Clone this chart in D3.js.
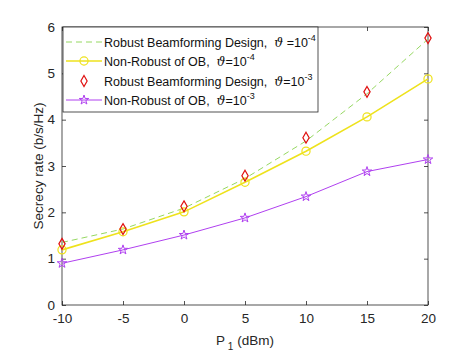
<!DOCTYPE html>
<html><head><meta charset="utf-8">
<script src="https://cdn.jsdelivr.net/npm/d3@7"></script>
<style>body{margin:0;background:#fff;} svg{display:block;font-family:"Liberation Sans",Arial,sans-serif;}</style>
</head><body>
<svg id="c" width="474" height="355"></svg>
<script>
const xValues = [-10, -5, 0, 5, 10, 15, 20];
const robust4 = [1.35, 1.64, 2.09, 2.73, 3.54, 4.56, 5.74];
const nonRobust4 = [1.19, 1.58, 2.01, 2.65, 3.32, 4.06, 4.88];
const robust3 = [1.32, 1.64, 2.13, 2.79, 3.61, 4.60, 5.76];
const nonRobust3 = [0.90, 1.19, 1.51, 1.88, 2.34, 2.88, 3.14];
const xTicks = [-10, -5, 0, 5, 10, 15, 20];
const yTicks = [0, 1, 2, 3, 4, 5, 6];

const svg = d3.select("#c");
const L = 62, R = 428, T = 27, B = 305;
const x = d3.scaleLinear().domain([-10, 20]).range([L, R]);
const y = d3.scaleLinear().domain([0, 6]).range([B, T]);
const axisColor = "#262626";
const fmt = d => String(d);

// axes
const gx = svg.append("g").attr("transform", `translate(0,${B})`)
  .call(d3.axisBottom(x).tickValues(xTicks).tickSize(-4).tickPadding(8).tickFormat(fmt));
const gxt = svg.append("g").attr("transform", `translate(0,${T})`)
  .call(d3.axisTop(x).tickValues(xTicks).tickSize(-4).tickFormat(""));
const gy = svg.append("g").attr("transform", `translate(${L},0)`)
  .call(d3.axisLeft(y).tickValues(yTicks).tickSize(-4).tickPadding(7).tickFormat(fmt));
const gyr = svg.append("g").attr("transform", `translate(${R},0)`)
  .call(d3.axisRight(y).tickValues(yTicks).tickSize(-4).tickFormat(""));
[gx, gxt, gy, gyr].forEach(g => {
  g.select(".domain").remove();
  g.selectAll("line").attr("stroke", axisColor).attr("stroke-width", 0.8);
  g.selectAll("text").attr("fill", axisColor).attr("font-size", 13.5).attr("font-family", "Liberation Sans, Arial, sans-serif");
});
svg.append("rect").attr("x", L).attr("y", T).attr("width", R - L).attr("height", B - T)
  .attr("fill", "none").attr("stroke", axisColor).attr("stroke-width", 0.8);

// series
const green = "#96d862", yellow = "#eee21c", red = "#e01010", purple = "#b040f0";
const line = d3.line().x((d, i) => x(xValues[i])).y(d => y(d));

svg.append("path").datum(robust4).attr("d", line).attr("fill", "none")
  .attr("stroke", green).attr("stroke-width", 1).attr("stroke-dasharray", "6,4");
svg.append("path").datum(nonRobust4).attr("d", line).attr("fill", "none")
  .attr("stroke", yellow).attr("stroke-width", 1.6);
svg.append("path").datum(nonRobust3).attr("d", line).attr("fill", "none")
  .attr("stroke", purple).attr("stroke-width", 1);

const circ = d3.symbol().type(d3.symbolCircle).size(52);
const diam = d3.symbol().type(d3.symbolDiamond).size(34);
const star = d3.symbol().type(d3.symbolStar).size(28);

svg.append("g").selectAll("path").data(nonRobust4).join("path")
  .attr("d", circ).attr("transform", (d, i) => `translate(${x(xValues[i])},${y(d)})`)
  .attr("fill", "none").attr("stroke", yellow).attr("stroke-width", 1.2);
svg.append("g").selectAll("path").data(robust3).join("path")
  .attr("d", diam).attr("transform", (d, i) => `translate(${x(xValues[i])},${y(d)})`)
  .attr("fill", "none").attr("stroke", red).attr("stroke-width", 1.2);
svg.append("g").selectAll("path").data(nonRobust3).join("path")
  .attr("d", star).attr("transform", (d, i) => `translate(${x(xValues[i])},${y(d)})`)
  .attr("fill", "none").attr("stroke", purple).attr("stroke-width", 1);

// legend
const lg = svg.append("g");
lg.append("rect").attr("x", 63).attr("y", 27).attr("width", 255).attr("height", 85)
  .attr("fill", "#fff").attr("stroke", axisColor).attr("stroke-width", 0.8);
const entries = [
  {name: "Robust Beamforming Design,", th: "  ϑ =10", exp: "-4", type: "dash", col: green},
  {name: "Non-Robust of OB,", th: "  ϑ=10", exp: "-4", type: "circ", col: yellow},
  {name: "Robust Beamforming Design,", th: "  ϑ=10", exp: "-3", type: "diam", col: red},
  {name: "Non-Robust of OB,", th: "  ϑ=10", exp: "-3", type: "star", col: purple}
];
const rowY = [42, 61, 81, 100];
entries.forEach((e, i) => {
  const yy = rowY[i];
  if (e.type !== "diam") {
    lg.append("line").attr("x1", 66).attr("x2", 102).attr("y1", yy).attr("y2", yy)
      .attr("stroke", e.col).attr("stroke-width", e.type === "circ" ? 1.6 : 1)
      .attr("stroke-dasharray", e.type === "dash" ? "6,4" : null);
  }
  if (e.type === "circ") lg.append("path").attr("d", circ).attr("transform", `translate(84,${yy})`)
    .attr("fill", "none").attr("stroke", e.col).attr("stroke-width", 1.2);
  if (e.type === "diam") lg.append("path").attr("d", diam).attr("transform", `translate(84,${yy})`)
    .attr("fill", "none").attr("stroke", e.col).attr("stroke-width", 1.2);
  if (e.type === "star") lg.append("path").attr("d", star).attr("transform", `translate(84,${yy})`)
    .attr("fill", "none").attr("stroke", e.col).attr("stroke-width", 1);
  const t = lg.append("text").attr("x", 104).attr("y", yy + 4.5).attr("font-size", 12.5)
    .attr("fill", "#111").attr("xml:space", "preserve");
  t.append("tspan").text(e.name);
  const parts = e.th.split("ϑ");
  t.append("tspan").text(parts[0]);
  t.append("tspan").attr("font-style", "italic").attr("font-family", "DejaVu Serif, serif").text("ϑ");
  t.append("tspan").text(parts[1]);
  t.append("tspan").attr("dy", -6).attr("font-size", 9).text(e.exp);
});

// axis labels
svg.append("text").attr("transform", `translate(43,${(T + B) / 2}) rotate(-90)`)
  .attr("text-anchor", "middle").attr("font-size", 13.5).attr("fill", axisColor)
  .text("Secrecy rate (b/s/Hz)");
const xl = svg.append("text").attr("x", (L + R) / 2).attr("y", 345).attr("text-anchor", "middle")
  .attr("font-size", 13.5).attr("fill", axisColor);
xl.append("tspan").text("P");
xl.append("tspan").attr("dy", 5).attr("font-size", 10).text(" 1");
xl.append("tspan").attr("dy", -5).text(" (dBm)");
</script>
</body></html>
